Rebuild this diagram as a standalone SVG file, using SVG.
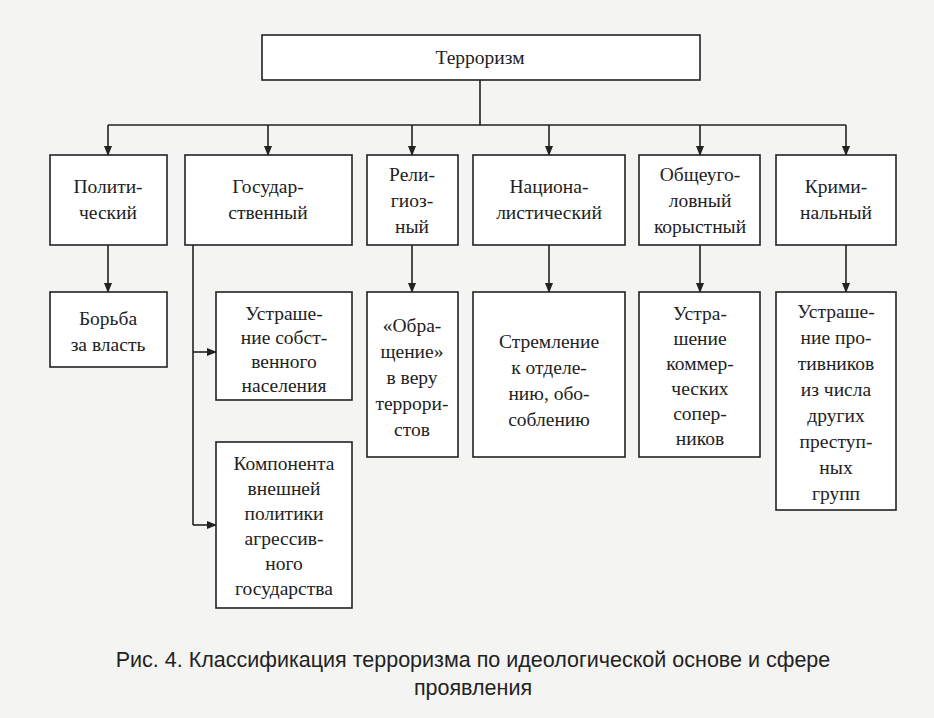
<svg xmlns="http://www.w3.org/2000/svg" width="934" height="718" viewBox="0 0 934 718">
<defs>
<marker id="a" markerWidth="10" markerHeight="10" refX="9" refY="4" orient="auto" markerUnits="userSpaceOnUse"><path d="M0,0 L10,4 L0,8 z" fill="#222"/></marker>
<style>
rect{fill:#fff;stroke:#222;stroke-width:1.6}
text{font-family:"Liberation Serif",serif;font-size:19.5px;fill:#222;text-anchor:middle}
.c{stroke:#222;stroke-width:1.6;fill:none}
.cap{font-family:"Liberation Sans",sans-serif;font-size:21.5px}
</style>
</defs>
<rect x="0" y="0" width="934" height="718" style="fill:#f4f4f2;stroke:none"/>
<g id="connectors">
<path class="c" d="M480,80 V125 M108,125 H846"/>
<path class="c" marker-end="url(#a)" d="M108,125 V155"/>
<path class="c" marker-end="url(#a)" d="M268,125 V155"/>
<path class="c" marker-end="url(#a)" d="M412,125 V155"/>
<path class="c" marker-end="url(#a)" d="M549,125 V155"/>
<path class="c" marker-end="url(#a)" d="M700,125 V155"/>
<path class="c" marker-end="url(#a)" d="M846,125 V155"/>
<path class="c" marker-end="url(#a)" d="M108,245 V292"/>
<path class="c" marker-end="url(#a)" d="M412,245 V292"/>
<path class="c" marker-end="url(#a)" d="M549,245 V292"/>
<path class="c" marker-end="url(#a)" d="M700,245 V292"/>
<path class="c" marker-end="url(#a)" d="M846,245 V292"/>
<path class="c" d="M193,245 V525"/>
<path class="c" marker-end="url(#a)" d="M193,352 H216"/>
<path class="c" marker-end="url(#a)" d="M193,525 H216"/>
</g>
<g id="root"><rect x="262" y="35" width="438" height="45"/><text x="480" y="64">Терроризм</text></g>
<g id="n1"><rect x="50" y="155" width="117" height="90"/><text x="108" y="193">Полити-</text><text x="108" y="219">ческий</text></g>
<g id="n2"><rect x="185" y="155" width="167" height="90"/><text x="268" y="193">Государ-</text><text x="268" y="219">ственный</text></g>
<g id="n3"><rect x="367" y="155" width="91" height="90"/><text x="412" y="181">Рели-</text><text x="412" y="207">гиоз-</text><text x="412" y="233">ный</text></g>
<g id="n4"><rect x="473" y="155" width="152" height="90"/><text x="549" y="193">Национа-</text><text x="549" y="219">листический</text></g>
<g id="n5"><rect x="639" y="155" width="121" height="90"/><text x="700" y="181">Общеуго-</text><text x="700" y="207">ловный</text><text x="700" y="233">корыстный</text></g>
<g id="n6"><rect x="776" y="155" width="120" height="90"/><text x="836" y="193">Крими-</text><text x="836" y="219">нальный</text></g>
<g id="m1"><rect x="50" y="292" width="117" height="75"/><text x="108" y="325">Борьба</text><text x="108" y="351">за власть</text></g>
<g id="m2"><rect x="216" y="292" width="136" height="108"/><text x="284" y="320">Устраше-</text><text x="284" y="344">ние собст-</text><text x="284" y="368">венного</text><text x="284" y="392">населения</text></g>
<g id="m3"><rect x="367" y="292" width="91" height="165"/><text x="412" y="332">«Обра-</text><text x="412" y="358">щение»</text><text x="412" y="384">в веру</text><text x="412" y="410">террори-</text><text x="412" y="436">стов</text></g>
<g id="m4"><rect x="473" y="292" width="152" height="165"/><text x="549" y="348">Стремление</text><text x="549" y="374">к отделе-</text><text x="549" y="400">нию, обо-</text><text x="549" y="426">соблению</text></g>
<g id="m5"><rect x="639" y="292" width="121" height="165"/><text x="700" y="320">Устра-</text><text x="700" y="345">шение</text><text x="700" y="370">коммер-</text><text x="700" y="395">ческих</text><text x="700" y="420">сопер-</text><text x="700" y="445">ников</text></g>
<g id="m6"><rect x="776" y="292" width="120" height="218"/><text x="836" y="318">Устраше-</text><text x="836" y="344">ние про-</text><text x="836" y="370">тивников</text><text x="836" y="396">из числа</text><text x="836" y="422">других</text><text x="836" y="448">преступ-</text><text x="836" y="474">ных</text><text x="836" y="500">групп</text></g>
<g id="m7"><rect x="216" y="442" width="136" height="166"/><text x="284" y="470">Компонента</text><text x="284" y="495">внешней</text><text x="284" y="520">политики</text><text x="284" y="545">агрессив-</text><text x="284" y="570">ного</text><text x="284" y="595">государства</text></g>
<text class="cap" x="473" y="667">Рис. 4. Классификация терроризма по идеологической основе и сфере</text>
<text class="cap" x="473" y="695">проявления</text>
</svg>
